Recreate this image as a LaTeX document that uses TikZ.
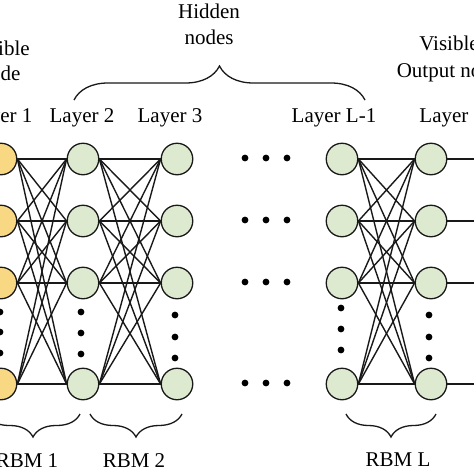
\documentclass[tikz,border=0pt]{standalone}
\usepackage{fontspec}
\setmainfont{Liberation Serif}
\usetikzlibrary{decorations.pathreplacing}
\definecolor{yellowfill}{RGB}{249,216,132}
\definecolor{greenfill}{RGB}{221,234,208}
\definecolor{edgecol}{RGB}{25,25,25}
\begin{document}
\begin{tikzpicture}[x=1pt,y=-1pt,
  neuron/.style={circle,draw=edgecol,line width=1.3pt,minimum size=31.5pt,inner sep=0pt},
  inneuron/.style={neuron,fill=yellowfill},
  hidneuron/.style={neuron,fill=greenfill},
  conn/.style={line width=1.4pt,draw=edgecol},
  dotmark/.style={circle,fill=black,inner sep=0pt,minimum size=6.8pt},
  lbl/.style={font=\fontsize{21}{25}\selectfont,anchor=base,inner sep=0pt},
  bracedeco/.style={decorate,decoration={brace,amplitude=#1},line width=1.3pt,draw=edgecol}
]
\useasboundingbox (0,0) rectangle (474,474);
\clip (0,0) rectangle (474,474);
\fill[white] (0,0) rectangle (474,474);

% neurons
\foreach \r/\y in {1/159,2/221,3/283,4/384}{
  \node[inneuron] (n1\r) at (1,\y) {};
  \node[hidneuron] (n2\r) at (83,\y) {};
  \node[hidneuron] (n3\r) at (177,\y) {};
  \node[hidneuron] (n4\r) at (342,\y) {};
  \node[hidneuron] (n5\r) at (431,\y) {};
  \coordinate (o\r) at (474,\y);
}

% connections
\foreach \a/\b in {1/2,2/3,4/5}
  \foreach \i in {1,...,4}
    \foreach \j in {1,...,4}
      \draw[conn] (n\a\i.east) -- (n\b\j.west);
\foreach \r in {1,...,4}
  \draw[conn] (n5\r.east) -- (o\r);

% vertical dots
\foreach \k/\y in {1/312,2/332,3/353} \node[dotmark] (va\k) at (0,\y) {};
\foreach \k/\y in {1/312,2/333,3/354} \node[dotmark] (vb\k) at (81,\y) {};
\foreach \k/\y in {1/315,2/337,3/358} \node[dotmark] (vc\k) at (175,\y) {};
\foreach \k/\y in {1/308,2/329,3/350} \node[dotmark] (vd\k) at (341,\y) {};
\foreach \k/\y in {1/315,2/337,3/358} \node[dotmark] (ve\k) at (429,\y) {};

% horizontal dots
\foreach \r/\y in {1/158,2/220,3/282,4/383}
  \foreach \k/\x in {1/245,2/266,3/287}
    \node[dotmark] (hd\r\k) at (\x,\y) {};

% labels
\node[lbl] (l1) at (0,122) {Layer 1};
\node[lbl] (l2) at (82,122) {Layer 2};
\node[lbl] (l3) at (170,122) {Layer 3};
\node[lbl] (l4) at (334,122) {Layer L-1};
\node[lbl] (l5) at (453,122) {Layer L};
\node[lbl] (vin1) at (0,55) {Visible};
\node[lbl] (vin2) at (0,80) {node};
\node[lbl] (hid1) at (209,18) {Hidden};
\node[lbl] (hid2) at (209,44) {nodes};
\node[lbl] (vout1) at (449,50) {Visible};
\node[lbl] (vout2) at (449,77) {Output node};
\node[lbl] (rb1) at (27,467) {RBM 1};
\node[lbl] (rb2) at (134,467) {RBM 2};
\node[lbl] (rbL) at (398,466) {RBM L};

% braces
\coordinate (hbA) at (74,100);
\coordinate (hbB) at (365,100);
\draw[bracedeco=34pt] (hbA) -- (hbB);
\coordinate (b1A) at (80,414);
\coordinate (b1B) at (-14,414);
\draw[bracedeco=23pt] (b1A) -- (b1B);
\coordinate (b2A) at (182,414);
\coordinate (b2B) at (90,414);
\draw[bracedeco=23pt] (b2A) -- (b2B);
\coordinate (bLA) at (436,414);
\coordinate (bLB) at (346,414);
\draw[bracedeco=23pt] (bLA) -- (bLB);
\end{tikzpicture}
\end{document}
